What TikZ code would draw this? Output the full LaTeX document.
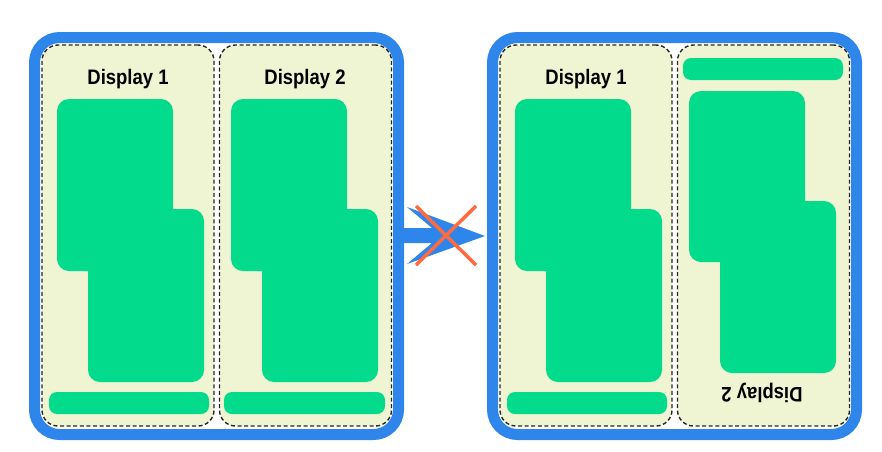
\documentclass[tikz,border=0pt]{standalone}
\usepackage{fontspec}
\setmainfont{Liberation Sans}
\newfontfamily\titlefont{Liberation Sans}[FakeStretch=0.88]
\usetikzlibrary{calc}
\definecolor{devblue}{HTML}{2E86EB}
\definecolor{appgreen}{HTML}{02DB8B}
\definecolor{panelfill}{HTML}{EFF5D2}
\definecolor{crossred}{HTML}{FF6A40}
\tikzset{
  device/.style={draw=devblue, line width=11pt, rounded corners=25pt, minimum width=364pt, minimum height=397pt, inner sep=0pt},
  panel/.style={draw=black!85, fill=panelfill, line width=1.4pt, dash pattern=on 4pt off 2.6pt, rounded corners=16pt, minimum width=172pt, minimum height=381pt, inner sep=0pt},
  app/.style={fill=appgreen, rounded corners=12pt},
  navbar/.style={fill=appgreen, rounded corners=8pt},
  title/.style={font=\titlefont\bfseries\fontsize{21}{21}\selectfont, inner sep=0pt, anchor=base, text=black},
  cross/.style={draw=crossred, line width=3.5pt},
}
\begin{document}
\begin{tikzpicture}[x=1pt,y=-1pt]
\useasboundingbox (0,0) rectangle (882,451);
% devices
\node[device] (d1) at (216.5,236) {};
\node[device] (d2) at (674.5,236) {};
% panels
\node[panel] (p11) at (128,235.5) {};
\node[panel] (p12) at (305.5,235.5) {};
\node[panel] (p21) at (586,235.5) {};
\node[panel] (p22) at (763.5,235.5) {};
% left device, display 1
\node[title] (t11) at (128,84) {Display 1};
\fill[app] (57,99) rectangle (173,271);
\fill[app] (88,209) rectangle (204,382);
\fill[navbar] (49,392) rectangle (209,414);
% left device, display 2
\node[title] (t12) at (305,84) {Display 2};
\fill[app] (231,99) rectangle (347,271);
\fill[app] (262,209) rectangle (378,382);
\fill[navbar] (224,392) rectangle (385,414);
% right device, display 1
\node[title] (t21) at (586,84) {Display 1};
\fill[app] (515,99) rectangle (631,271);
\fill[app] (546,209) rectangle (662,382);
\fill[navbar] (507,392) rectangle (667,414);
% right device, display 2 (upside down)
\node[title, rotate=180] (t22) at (762,387) {Display 2};
\fill[navbar] (683,58) rectangle (843,80);
\fill[app] (689,91) rectangle (805,262);
\fill[app] (720,201) rectangle (836,373);
% arrow
\fill[devblue] ($(d1.east)+(-3,-8)$) -- ($(d1.east)+(28,-8)$) -- ($(d1.east)+(3,-29)$)
  -- ($(d2.west)+(-2,0)$) -- ($(d1.east)+(3,28)$) -- ($(d1.east)+(28,7)$) -- ($(d1.east)+(-3,7)$) -- cycle;
% cross
\coordinate (c1) at (416,206);
\coordinate (c2) at (476,265);
\coordinate (c3) at (476,206);
\coordinate (c4) at (416,265);
\draw[cross] (c1) -- (c2);
\draw[cross] (c3) -- (c4);
\end{tikzpicture}
\end{document}
